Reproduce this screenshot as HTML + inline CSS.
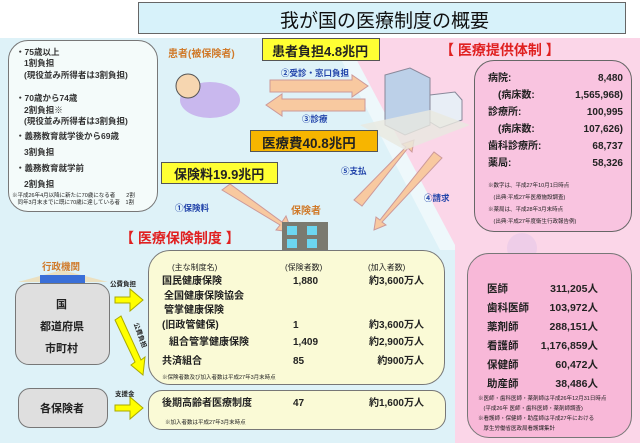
<!DOCTYPE html>
<html><head><meta charset="utf-8"><style>
*{margin:0;padding:0;box-sizing:border-box}
body{width:640px;height:443px;position:relative;overflow:hidden;background:#fff;font-family:"Liberation Sans","Noto Sans CJK JP",sans-serif;font-weight:bold;color:#222}
.a{position:absolute;white-space:nowrap}
.box{position:absolute;border:1.5px solid #555}
.l{position:absolute;white-space:nowrap;font-size:8.5px;line-height:10px;color:#333}
.t{position:absolute;white-space:nowrap;font-size:10px;line-height:12px}
.r{position:absolute;white-space:nowrap;font-size:10px;line-height:12px;left:340px;width:84px;text-align:right}
</style></head><body>
<svg class="a" style="left:0;top:0" width="640" height="443">
<rect x="0" y="38" width="640" height="405" fill="#def2f8"/>
<polygon points="340,38 640,38 640,443 455,443 455,250" fill="#fbd6e8"/>
<polygon points="330,38 345,38 455,245 455,250 440,250" fill="#eef8fb"/>
<polygon points="270,80 352,80 352,75 368,86 352,97 352,92 270,92" fill="#f8c9a0" stroke="#c99" stroke-width="1"/>
<polygon points="365,99 282,99 282,94 266,105 282,116 282,111 365,111" fill="#f8c9a0" stroke="#c99" stroke-width="1"/>
<polygon points="222,190 230,184 282,222 286,216 292,232 276,230 280,225" fill="#f8c9a0" stroke="#c99"/>
<polygon points="354,200 362,206 408,148 412,152 414,140 402,144 406,147" fill="#f8c9a0" stroke="#c99"/>
<polygon points="378,222 386,228 440,160 444,163 446,150 434,155 438,158" fill="#f8c9a0" stroke="#c99" transform="rotate(180 410 190)"/>
<polygon points="115,297 130,297 130,289 143,300 130,311 130,303 115,303" fill="#ffff00" stroke="#aa0"/>
<polygon points="115,320 121,316 141,360 145,357 143,375 131,365 135,362" fill="#ffff00" stroke="#aa0"/>
<polygon points="115,405 130,405 130,397 143,408 130,419 130,411 115,411" fill="#ffff00" stroke="#aa0"/>
<rect x="282" y="222" width="46" height="34" fill="#7a7a70"/>
<rect x="287" y="226" width="10" height="9" fill="#6cd6f0"/><rect x="307" y="226" width="10" height="9" fill="#6cd6f0"/>
<rect x="287" y="239" width="10" height="9" fill="#6cd6f0"/><rect x="307" y="239" width="10" height="9" fill="#6cd6f0"/>
<rect x="300" y="250" width="6" height="6" fill="#111"/>
<polygon points="385,75 410,68 430,78 430,125 405,135 385,125" fill="#bcd0e8" stroke="#889"/>
<polygon points="430,95 455,92 462,100 462,120 440,128 430,122" fill="#e8eef6" stroke="#889"/>
<polygon points="360,125 405,150 470,125 430,110" fill="#e8e8e0" opacity=".8"/>
<ellipse cx="210" cy="100" rx="30" ry="18" fill="#c9b8ee"/>
<circle cx="188" cy="86" r="12" fill="#f6d6b0" stroke="#555"/>
<polygon points="18,282 62,270 108,282" fill="#ebe0c0"/>
<rect x="40" y="275" width="45" height="15" fill="#3a6fd8"/>
<circle cx="522" cy="248" r="15" fill="#eecde8"/>
</svg>

<div class="box" style="left:138px;top:2px;width:488px;height:32px;background:#d7f2fa;border-color:#666"></div>
<div class="a" style="left:280px;top:6px;font-size:19px;font-weight:normal;color:#111">我が国の医療制度の概要</div>

<div class="box" style="left:8px;top:40px;width:150px;height:172px;background:#f4fbfa;border-radius:20px;border-color:#777"></div>
<div class="l" style="left:16px;top:47px">・75歳以上</div>
<div class="l" style="left:24px;top:58px">1割負担</div>
<div class="l" style="left:24px;top:70px">(現役並み所得者は3割負担)</div>
<div class="l" style="left:16px;top:93px">・70歳から74歳</div>
<div class="l" style="left:24px;top:105px">2割負担※</div>
<div class="l" style="left:24px;top:116px">(現役並み所得者は3割負担)</div>
<div class="l" style="left:16px;top:131px">・義務教育就学後から69歳</div>
<div class="l" style="left:24px;top:147px">3割負担</div>
<div class="l" style="left:16px;top:163px">・義務教育就学前</div>
<div class="l" style="left:24px;top:179px">2割負担</div>
<div class="a" style="left:12px;top:193px;font-size:5.5px;line-height:7px;font-weight:normal">※平成26年4月以降に新たに70歳になる者　　2割<br>　同年3月末までに既に70歳に達している者　1割</div>

<div class="a" style="left:168px;top:45px;font-size:10px;color:#d07a2a">患者(被保険者)</div>
<div class="box" style="left:262px;top:38px;width:118px;height:23px;background:#ffff33"></div>
<div class="a" style="left:272px;top:41px;font-size:13px">患者負担4.8兆円</div>
<div class="a" style="left:281px;top:67px;font-size:8.5px;color:#2244aa">②受診・窓口負担</div>
<div class="a" style="left:302px;top:113px;font-size:8.5px;color:#2244aa">③診療</div>
<div class="box" style="left:250px;top:130px;width:128px;height:22px;background:#f7b500"></div>
<div class="a" style="left:262px;top:132px;font-size:13.5px">医療費40.8兆円</div>
<div class="box" style="left:161px;top:162px;width:117px;height:22px;background:#ffff33"></div>
<div class="a" style="left:174px;top:164px;font-size:13px">保険料19.9兆円</div>
<div class="a" style="left:175px;top:202px;font-size:8.5px;color:#2244aa">①保険料</div>
<div class="a" style="left:291px;top:202px;font-size:10px;color:#d07a2a">保険者</div>
<div class="a" style="left:341px;top:165px;font-size:8.5px;color:#2244aa">⑤支払</div>
<div class="a" style="left:424px;top:192px;font-size:8.5px;color:#2244aa">④請求</div>

<div class="a" style="left:440px;top:40px;font-size:14px;color:#e02020">【 医療提供体制 】</div>
<div class="box" style="left:474px;top:60px;width:158px;height:172px;background:#f9c4e0;border-radius:20px;border-color:#666"></div>
<div class="a" style="left:488px;top:70px;font-size:10px;line-height:17px">病院:<br>　(病床数:<br>診療所:<br>　(病床数:<br>歯科診療所:<br>薬局:</div>
<div class="a" style="left:487px;top:70px;width:136px;text-align:right;font-size:10px;line-height:17px">8,480<br>1,565,968)<br>100,995<br>107,626)<br>68,737<br>58,326</div>
<div class="a" style="left:488px;top:180px;font-size:5.5px;line-height:12px;font-weight:normal">※数字は、平成27年10月1日時点<br>　(出典:平成27年医療施設調査)<br>※薬局は、平成28年3月末時点<br>　(出典:平成27年度衛生行政報告例)</div>

<div class="a" style="left:120px;top:228px;font-size:14px;color:#e02020">【 医療保険制度 】</div>
<div class="a" style="left:42px;top:259px;font-size:9.5px;color:#d07a2a">行政機関</div>
<div class="box" style="left:15px;top:283px;width:95px;height:82px;background:#dfdfdf;border-radius:14px;border-color:#777"></div>
<div class="a" style="left:56px;top:296px;font-size:11px">国</div>
<div class="a" style="left:40px;top:318px;font-size:11px">都道府県</div>
<div class="a" style="left:45px;top:340px;font-size:11px">市町村</div>
<div class="a" style="left:110px;top:278px;font-size:6.5px">公費負担</div>
<div class="a" style="left:128px;top:330px;font-size:6.5px;transform:rotate(70deg)">公費負担</div>
<div class="a" style="left:115px;top:388px;font-size:6.5px">支援金</div>
<div class="box" style="left:18px;top:388px;width:90px;height:40px;background:#dfdfdf;border-radius:12px;border-color:#777"></div>
<div class="a" style="left:40px;top:400px;font-size:11px">各保険者</div>

<div class="box" style="left:148px;top:250px;width:297px;height:135px;background:#fafad6;border-radius:22px;border-color:#777"></div>
<div class="a" style="left:172px;top:262px;font-size:8px;font-weight:normal">(主な制度名)</div>
<div class="a" style="left:285px;top:262px;font-size:8px;font-weight:normal">(保険者数)</div>
<div class="a" style="left:368px;top:262px;font-size:8px;font-weight:normal">(加入者数)</div>
<div class="t" style="left:162px;top:276px">国民健康保険</div>
<div class="t" style="left:164px;top:291px">全国健康保険協会</div>
<div class="t" style="left:164px;top:305px">管掌健康保険</div>
<div class="t" style="left:162px;top:320px">(旧政管健保)</div>
<div class="t" style="left:169px;top:337px">組合管掌健康保険</div>
<div class="t" style="left:162px;top:356px">共済組合</div>
<div class="t" style="left:293px;top:276px">1,880</div>
<div class="t" style="left:293px;top:320px">1</div>
<div class="t" style="left:293px;top:337px">1,409</div>
<div class="t" style="left:293px;top:356px">85</div>
<div class="r" style="top:276px">約3,600万人</div>
<div class="r" style="top:320px">約3,600万人</div>
<div class="r" style="top:337px">約2,900万人</div>
<div class="r" style="top:356px">約900万人</div>
<div class="a" style="left:162px;top:373px;font-size:5.5px;font-weight:normal">※保険者数及び加入者数は平成27年3月末時点</div>
<div class="box" style="left:148px;top:390px;width:298px;height:40px;background:#fafad6;border-radius:14px;border-color:#777"></div>
<div class="t" style="left:162px;top:398px">後期高齢者医療制度</div>
<div class="t" style="left:293px;top:398px">47</div>
<div class="r" style="top:398px">約1,600万人</div>
<div class="a" style="left:165px;top:418px;font-size:5.5px;font-weight:normal">※加入者数は平成27年3月末時点</div>

<div class="box" style="left:467px;top:253px;width:165px;height:185px;background:#f8b8d8;border-radius:22px;border-color:#777"></div>
<div class="a" style="left:487px;top:280px;font-size:10.5px;line-height:19px">医師<br>歯科医師<br>薬剤師<br>看護師<br>保健師<br>助産師</div>
<div class="a" style="left:540px;top:280px;width:58px;text-align:right;font-size:10.5px;line-height:19px">311,205人<br>103,972人<br>288,151人<br>1,176,859人<br>60,472人<br>38,486人</div>
<div class="a" style="left:478px;top:394px;font-size:5.5px;line-height:10px;font-weight:normal">※医師・歯科医師・薬剤師は平成26年12月31日時点<br>　(平成26年 医師・歯科医師・薬剤師調査)<br>※看護師・保健師・助産師は平成27年における<br>　厚生労働省医政局看護課集計</div>
</body></html>
